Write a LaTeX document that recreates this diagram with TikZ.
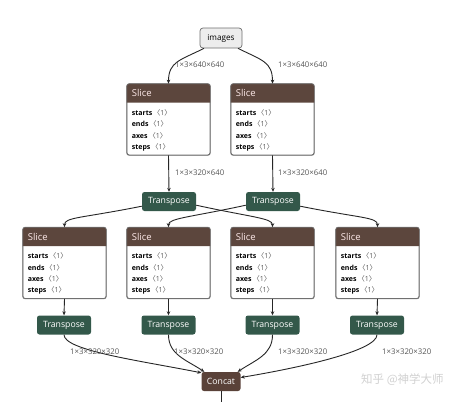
\documentclass[tikz,border=0pt]{standalone}
\usepackage{fontspec}
\setmainfont{Open Sans}
\newfontfamily\cjk{Noto Sans CJK SC}
\usetikzlibrary{calc,arrows.meta}
\definecolor{hdr}{HTML}{5C463D}
\definecolor{trn}{HTML}{33584A}
\definecolor{cct}{HTML}{5A4239}
\definecolor{lbl}{HTML}{555555}
\definecolor{bord}{HTML}{707070}
\tikzset{
  edge/.style={draw=black!85,line width=0.9pt,-{Stealth[length=4pt,width=3.5pt]}},
  plainedge/.style={draw=black!85,line width=0.9pt},
  slicebody/.style={draw=bord,fill=white,rounded corners=2.5pt,line width=0.7pt,minimum width=83pt,minimum height=71pt,inner sep=0pt},
  trbox/.style={fill=trn,rounded corners=2.5pt,minimum width=54pt,minimum height=19pt,inner sep=0pt,text=white,font=\fontsize{8.7}{10}\selectfont},
  ccbox/.style={fill=cct,rounded corners=2.5pt,minimum width=39pt,minimum height=19pt,inner sep=0pt,text=white,font=\fontsize{8.7}{10}\selectfont},
  inbox/.style={fill=black!7,draw=bord,line width=0.7pt,rounded corners=3pt,minimum width=42pt,minimum height=20pt,inner sep=0pt,font=\fontsize{8.2}{10}\selectfont},
  hdrtext/.style={anchor=west,inner sep=0pt,text=white!92!red,font=\fontsize{9.5}{10}\selectfont},
  attrtext/.style={anchor=west,inner sep=0pt,font=\fontsize{7}{8}\selectfont},
  elabel/.style={anchor=west,inner sep=0pt,text=lbl,font=\fontsize{7.8}{9}\selectfont},
}
\newcommand\attrv[1]{\textbf{#1}\,{\color{lbl}\cjk〈}{\color{lbl}1}{\color{lbl}\cjk〉}}
\newcommand\SliceBox[3]{%
  \node[slicebody] (#1) at (#2,#3) {};
  \fill[hdr] ($(#1.north west)+(0,19)$) [rounded corners=2.5pt] -- (#1.north west) -- (#1.north east) [sharp corners] -- ($(#1.north east)+(0,19)$) -- cycle;
  \draw[bord,line width=0.7pt,rounded corners=2.5pt] (#1.north west) rectangle (#1.south east);
  \node[hdrtext] (#1h) at ($(#1.north west)+(5,9.5)$) {Slice};
  \node[attrtext] (#1a) at ($(#1.north west)+(5,29)$) {\attrv{starts}};
  \node[attrtext] (#1b) at ($(#1.north west)+(5,40.5)$) {\attrv{ends}};
  \node[attrtext] (#1c) at ($(#1.north west)+(5,52)$) {\attrv{axes}};
  \node[attrtext] (#1d) at ($(#1.north west)+(5,63.5)$) {\attrv{steps}};
}
\begin{document}
\begin{tikzpicture}[x=1pt,y=-1pt]
\useasboundingbox[fill=white] (0,0) rectangle (474,402);
% input
\node[inbox] (img) at (221,38) {images};
% top slices
\SliceBox{s1}{168.5}{119.5}
\SliceBox{s2}{272.5}{119.5}
% middle transposes
\node[trbox] (t1) at (169,201.5) {Transpose};
\node[trbox] (t2) at (273,201.5) {Transpose};
% bottom slices
\SliceBox{b1}{64.5}{263}
\SliceBox{b2}{168.5}{263}
\SliceBox{b3}{272.5}{263}
\SliceBox{b4}{377.5}{263}
% bottom transposes
\node[trbox] (u1) at (64,325) {Transpose};
\node[trbox] (u2) at (168.5,325) {Transpose};
\node[trbox] (u3) at (272.5,325) {Transpose};
\node[trbox] (u4) at (377,325) {Transpose};
% concat
\node[ccbox] (cc) at (221,381.5) {Concat};
\coordinate (out) at (221,402);
% edges
\draw[edge] ($(img.south)+(-17,0)$) .. controls +(-24,12) and +(0,-22) .. (s1.north);
\draw[edge] ($(img.south)+(17,0)$) .. controls +(24,12) and +(0,-22) .. (s2.north);
\draw[edge] (s1.south) -- (t1.north);
\draw[edge] (s2.south) -- (t2.north);
\draw[edge] ($(t1.south west)+(0,-5)$) .. controls +(-60,12) and +(0,-10) .. (b1.north);
\draw[edge] ($(t1.south east)+(0,-6)$) .. controls +(55,12) and +(0,-9) .. (b3.north);
\draw[edge] ($(t2.south west)+(0,-6)$) .. controls +(-55,12) and +(0,-9) .. (b2.north);
\draw[edge] ($(t2.south east)+(0,-5)$) .. controls +(60,12) and +(0,-10) .. (b4.north);
\draw[edge] (b1.south) -- (u1.north);
\draw[edge] (b2.south) -- (u2.north);
\draw[edge] (b3.south) -- (u3.north);
\draw[edge] (b4.south) -- (u4.north);
\draw[edge] (u1.south) .. controls +(0,16) and +(-60,-12) .. ($(cc.north west)+(0,1)$);
\draw[edge] (u2.south) .. controls +(0,20) and +(-18,-12) .. ($(cc.north west)+(3,0)$);
\draw[edge] (u3.south) .. controls +(0,20) and +(18,-12) .. ($(cc.north east)+(-3,0)$);
\draw[edge] (u4.south) .. controls +(0,16) and +(60,-10) .. ($(cc.east)+(0,-4)$);
\draw[plainedge] (cc.south) -- (out);
% edge labels
\node[elabel] (l1) at (175,65) {1×3×640×640};
\node[elabel] (l2) at (278,65) {1×3×640×640};
\node[elabel] (l3) at (175,173) {1×3×320×640};
\node[elabel] (l4) at (278,173) {1×3×320×640};
\node[elabel] (l5) at (70,352) {1×3×320×320};
\node[elabel] (l6) at (174,352) {1×3×320×320};
\node[elabel] (l7) at (278,352) {1×3×320×320};
\node[elabel] (l8) at (382,352) {1×3×320×320};
% watermark
\node[anchor=west,inner sep=0pt,text=black!18,font=\cjk\fontsize{11.5}{12}\selectfont] (wm) at (361,380) {知乎 @神学大师};
\end{tikzpicture}
\end{document}
